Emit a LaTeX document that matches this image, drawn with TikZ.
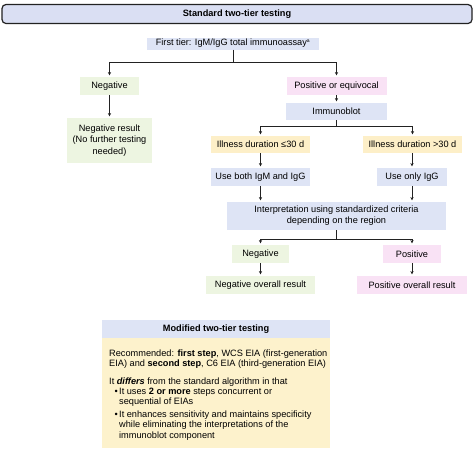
\documentclass[tikz,border=0pt]{standalone}
\usepackage{fontspec}
\setmainfont{Liberation Sans}
\usetikzlibrary{arrows.meta}
\definecolor{bluef}{HTML}{DEE4F5}
\definecolor{headf}{HTML}{DADFF3}
\definecolor{greenf}{HTML}{EDF5E1}
\definecolor{pinkf}{HTML}{F9E2F5}
\definecolor{yellowf}{HTML}{FDEFC8}
\definecolor{bodyf}{HTML}{FDF2CC}
\definecolor{linec}{HTML}{222222}
\begin{document}
\begin{tikzpicture}[x=1pt,y=-1pt,
  font=\fontsize{9.2}{11}\selectfont,
  box/.style={rectangle, inner sep=0pt, align=center},
  ln/.style={draw=linec, line width=0.9pt},
  arr/.style={ln, -{Stealth[length=3.2pt,width=3.2pt]}, shorten >=1.5pt},
  txt/.style={inner sep=0pt, align=left, anchor=west}]
\path[fill=white, use as bounding box] (0,0) rectangle (474,451);

% header
\node[box, draw=linec, line width=1.2pt, rounded corners=4pt, fill=headf,
  minimum width=470, minimum height=19, font=\fontsize{9.2}{11}\selectfont\bfseries]
  (head) at (237,14) {Standard two-tier testing};

% standard algorithm
\node[box, fill=bluef, minimum width=172, minimum height=12] (first) at (233,43.5)
  {First tier: IgM/IgG total immunoassay\textsuperscript{\fontsize{5}{5}\selectfont a}};
\node[box, fill=greenf, minimum width=59, minimum height=18] (neg1) at (109.5,86) {Negative};
\node[box, fill=pinkf, minimum width=100, minimum height=18] (pos1) at (336.5,86) {Positive or equivocal};
\node[box, fill=greenf, minimum width=85, minimum height=45, font=\fontsize{9.2}{11.3}\selectfont]
  (negres) at (109.5,140.5) {Negative result\\(No further testing\\needed)};
\node[box, fill=bluef, minimum width=101, minimum height=17] (immuno) at (336.5,111.5) {Immunoblot};
\node[box, fill=yellowf, minimum width=99, minimum height=17] (ill1) at (260.5,144.5) {Illness duration ≤30 d};
\node[box, fill=yellowf, minimum width=99, minimum height=17] (ill2) at (412.5,144.5) {Illness duration >30 d};
\node[box, fill=bluef, minimum width=99, minimum height=18] (both) at (260.5,177) {Use both IgM and IgG};
\node[box, fill=bluef, minimum width=70, minimum height=18] (only) at (412,177) {Use only IgG};
\node[box, fill=bluef, minimum width=219, minimum height=28] (interp) at (336.5,216)
  {Interpretation using standardized criteria\\depending on the region};
\node[box, fill=greenf, minimum width=57, minimum height=18] (neg2) at (260.5,254) {Negative};
\node[box, fill=pinkf, minimum width=58, minimum height=18] (pos2) at (412,254) {Positive};
\node[box, fill=greenf, minimum width=109, minimum height=18] (negov) at (260.5,285) {Negative overall result};
\node[box, fill=pinkf, minimum width=110, minimum height=18] (posov) at (412,285) {Positive overall result};

% connectors
\coordinate (f1) at (233,62);
\draw[ln] (first) -- (f1);
\draw[arr] (f1) -| (neg1);
\draw[arr] (f1) -| (pos1);
\draw[arr] (neg1) -- (negres);
\draw[arr] (pos1) -- (immuno);
\coordinate (f2) at (336.5,126);
\draw[ln] (immuno) -- (f2);
\draw[arr] (f2) -| (ill1);
\draw[arr] (f2) -| (ill2);
\draw[arr] (ill1) -- (both);
\draw[arr] (ill2.south -| only) -- (only);
\draw[arr] (both) -- (both |- interp.north);
\draw[arr] (only) -- (only |- interp.north);
\coordinate (f3) at (336.5,239);
\draw[ln] (interp) -- (f3);
\draw[arr] (f3) -| (neg2);
\draw[arr] (f3) -| (pos2);
\draw[arr] (neg2) -- (negov);
\draw[arr] (pos2) -- (posov);

% modified two-tier testing
\node[box, fill=bluef, minimum width=228, minimum height=18, font=\fontsize{9.2}{11}\selectfont\bfseries]
  (modhead) at (216,329) {Modified two-tier testing};
\node[box, fill=bodyf, minimum width=228, minimum height=110, anchor=north] (modbody) at (216,338) {};
\node[txt, font=\fontsize{9.2}{10.6}\selectfont] (rec) at (109,359)
  {Recommended: \textbf{first step}, WCS EIA (first-generation\\EIA) and \textbf{second step}, C6 EIA (third-generation EIA)};
\node[txt] (diff) at (109,382.3) {It \textbf{\itshape differs} from the standard algorithm in that};
\node[txt] (bul1) at (114.5,392) {•};
\node[txt, font=\fontsize{9.2}{10.7}\selectfont] (b1) at (119,397.3)
  {It uses \textbf{2 or more} steps concurrent or\\sequential of EIAs};
\node[txt] (bul2) at (114.5,415) {•};
\node[txt, font=\fontsize{9.2}{10.5}\selectfont] (b2) at (119,425.5)
  {It enhances sensitivity and maintains specificity\\while eliminating the interpretations of the\\immunoblot component};
\end{tikzpicture}
\end{document}
